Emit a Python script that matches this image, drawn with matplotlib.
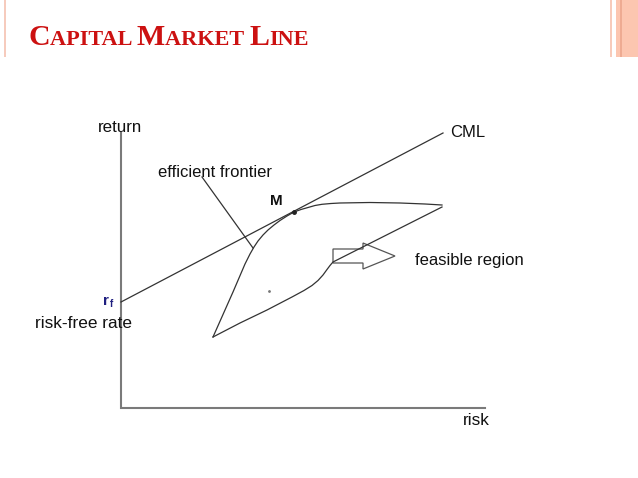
import matplotlib
matplotlib.use("Agg")
import matplotlib.pyplot as plt
from matplotlib.patches import Polygon, Rectangle

# all coordinates are in picture units (638 x 478, y pointing down)
axis_x = [121, 121, 485]
axis_y = [133, 408, 408]

rf = (121, 302)
cml_end = (443, 133)
market = (294, 212)

frontier_x = [213, 233, 245, 250, 254, 258, 263, 268, 274, 280, 287, 294, 301, 308,
              315, 322, 331, 340, 370, 400, 425, 442]
frontier_y = [337, 292, 264, 254, 247, 241, 235, 230, 225, 220.5, 216, 212, 209.5, 207.5,
              205.5, 204.3, 203.5, 203, 202.5, 203, 204, 205]

lower_x = [213, 240, 267, 292, 304, 312, 318, 323, 327, 330, 333, 442]
lower_y = [337, 323, 310, 297, 290.5, 285.5, 280.5, 275, 269.5, 265.5, 262, 207]

pointer_x = [202, 253]
pointer_y = [177, 248]

arrow_x = [333, 363, 363, 395, 363, 363, 333]
arrow_y = [249, 249, 243, 256, 269, 263, 263]

title_parts = [("C", True), ("APITAL ", False), ("M", True), ("ARKET ", False),
               ("L", True), ("INE", False)]

fig = plt.figure(figsize=(6.38, 4.78), dpi=100)
ax = fig.add_axes([0, 0, 1, 1])
ax.set_xlim(0, 638)
ax.set_ylim(478, 0)
ax.axis('off')

# slide decoration
ax.add_patch(Rectangle((4, 0), 2, 57, color='#f6cbbd', lw=0))
ax.add_patch(Rectangle((610, 0), 2, 57, color='#f7cbbb', lw=0))
ax.add_patch(Rectangle((616, 0), 22, 57, color='#fcc6b0', lw=0))
ax.add_patch(Rectangle((620, 0), 2, 57, color='#eeab92', lw=0))

# title in small caps
renderer = fig.canvas.get_renderer()
x = 28
for txt, big in title_parts:
    t = ax.text(x, 45, txt, family='Liberation Serif', weight='bold',
                size=21.5 if big else 16, color='#cc1111', va='baseline', ha='left')
    bb = t.get_window_extent(renderer=renderer)
    x += bb.width

# axes
ax.plot(axis_x, axis_y, color='#7a7a7a', lw=1.5, solid_joinstyle='miter')

line_kw = dict(color='#333333', lw=0.9)
ax.add_patch(Polygon(list(zip(arrow_x, arrow_y)), closed=True, fill=False,
                     edgecolor='#555555', lw=0.9))
ax.plot([rf[0], cml_end[0]], [rf[1], cml_end[1]], **line_kw)
ax.plot(frontier_x, frontier_y, **line_kw)
ax.plot(lower_x, lower_y, **line_kw)
ax.plot(pointer_x, pointer_y, **line_kw)
ax.plot(*market, 'o', color='#222222', ms=2.5)
ax.plot(269, 291, 'o', color='#777777', ms=1)

font = dict(family='Liberation Sans', color='#111111', va='baseline')
ax.text(98, 132, 'return', size=12.2, **font)
ax.text(450, 137, 'CML', size=12, **font)
ax.text(158, 177, 'efficient frontier', size=12, **font)
ax.text(270, 205, 'M', size=11, weight='bold', **font)
ax.text(415, 265, 'feasible region', size=12, **font)
ax.text(463, 425, 'risk', size=12.3, **font)
ax.text(35, 328, 'risk-free rate', size=12.4, **font)
ax.text(103, 305, 'r', size=11, weight='bold', family='Liberation Sans',
        color='#1f1f80', va='baseline')
ax.text(109.5, 307, 'f', size=7, weight='bold', family='Liberation Sans',
        color='#1f1f80', va='baseline')

fig.savefig('out.png', dpi=100)
